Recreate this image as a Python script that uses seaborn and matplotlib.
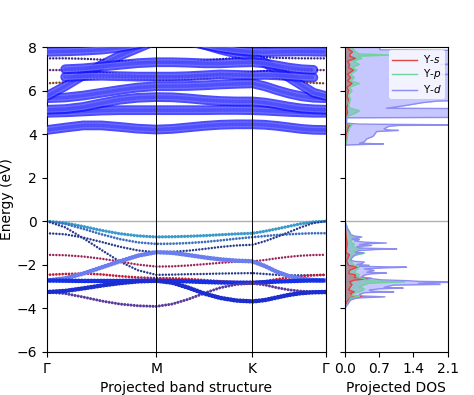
import matplotlib
matplotlib.use("Agg")
import matplotlib.pyplot as plt
import seaborn as sns

# -----------------------------
# K-PATH  (Γ - M - K - Γ, 7 samples per segment)
# -----------------------------

k_path = [0.000, 0.167, 0.333, 0.500, 0.667, 0.833, 1.000,
          1.147, 1.294, 1.441, 1.587, 1.734, 1.881,
          1.993, 2.104, 2.216, 2.328, 2.439, 2.551]
k_ticks = [0.0, 1.0, 1.881, 2.551]
k_labels = ["Γ", "M", "K", "Γ"]

# -----------------------------
# VALENCE BANDS (eV)
# -----------------------------

vb1 = [0.00, -0.08, -0.24, -0.42, -0.57, -0.67, -0.72, -0.71, -0.69, -0.66, -0.62, -0.58, -0.55, -0.46, -0.35, -0.23, -0.11, -0.03, 0.00]
vb2 = [0.00, -0.12, -0.35, -0.60, -0.82, -0.97, -1.04, -1.03, -1.00, -0.95, -0.88, -0.80, -0.73, -0.68, -0.63, -0.60, -0.57, -0.55, -0.55]
vb3 = [0.00, -0.28, -0.78, -1.32, -1.85, -2.25, -2.46, -2.45, -2.43, -2.42, -2.40, -2.39, -2.38, -2.42, -2.46, -2.48, -2.48, -2.47, -2.46]
vb4 = [-0.55, -0.60, -0.75, -0.95, -1.17, -1.34, -1.42, -1.40, -1.35, -1.27, -1.18, -1.11, -1.08, -0.92, -0.72, -0.50, -0.27, -0.08, 0.00]
vb5 = [-1.54, -1.56, -1.62, -1.72, -1.85, -1.99, -2.08, -2.07, -2.03, -1.97, -1.91, -1.86, -1.84, -1.78, -1.70, -1.63, -1.58, -1.55, -1.54]
vb6 = [-2.46, -2.42, -2.40, -2.44, -2.52, -2.58, -2.61, -2.62, -2.65, -2.70, -2.75, -2.79, -2.81, -2.75, -2.66, -2.58, -2.52, -2.48, -2.46]
vb7 = [-2.72, -2.62, -2.40, -2.12, -1.84, -1.58, -1.42, -1.45, -1.55, -1.66, -1.75, -1.81, -1.84, -2.05, -2.32, -2.52, -2.64, -2.70, -2.72]
vb8 = [-2.72, -2.73, -2.74, -2.74, -2.74, -2.73, -2.73, -2.74, -2.76, -2.79, -2.81, -2.82, -2.82, -2.80, -2.77, -2.75, -2.73, -2.72, -2.72]
vb9 = [-3.25, -3.32, -3.48, -3.66, -3.80, -3.88, -3.91, -3.80, -3.58, -3.30, -3.05, -2.90, -2.85, -2.92, -3.05, -3.15, -3.21, -3.24, -3.25]
vb10 = [-3.25, -3.20, -3.08, -2.95, -2.84, -2.76, -2.73, -2.82, -3.05, -3.32, -3.52, -3.64, -3.68, -3.62, -3.50, -3.38, -3.30, -3.26, -3.25]

# -----------------------------
# CONDUCTION BANDS (eV)
# -----------------------------

# thin (s/p-like near Γ)
cb_d1 = [7.48, 7.48, 7.46, 7.42, 7.36, 7.32, 7.30, 7.30, 7.33, 7.38, 7.44, 7.50, 7.55, 7.53, 7.50, 7.49, 7.48, 7.48, 7.48]
cb_d2 = [6.94, 6.94, 6.90, 6.83, 6.75, 6.68, 6.64, 6.64, 6.66, 6.70, 6.75, 6.80, 6.85, 6.90, 6.93, 6.94, 6.94, 6.94, 6.94]
cb_d3 = [6.33, 6.38, 6.50, 6.60, 6.58, 6.53, 6.50, 6.50, 6.53, 6.58, 6.63, 6.67, 6.70, 6.66, 6.58, 6.48, 6.40, 6.35, 6.33]

# fat (Y-d)
cb1 = [4.19, 4.30, 4.40, 4.40, 4.33, 4.25, 4.21, 4.24, 4.31, 4.38, 4.43, 4.45, 4.45, 4.43, 4.38, 4.31, 4.24, 4.20, 4.19]
cb2 = [4.98, 5.00, 5.04, 5.08, 5.10, 5.10, 5.10, 5.10, 5.10, 5.10, 5.11, 5.11, 5.10, 5.08, 5.05, 5.02, 5.00, 4.98, 4.98]
cb3 = [5.12, 5.15, 5.25, 5.42, 5.58, 5.67, 5.70, 5.69, 5.64, 5.57, 5.52, 5.50, 5.50, 5.45, 5.36, 5.26, 5.18, 5.14, 5.12]
cb4 = [5.65, 5.68, 5.77, 5.90, 6.03, 6.14, 6.20, 6.20, 6.21, 6.24, 6.28, 6.31, 6.33, 6.20, 6.02, 5.86, 5.74, 5.67, 5.65]
cb5 = [5.75, 6.20, 6.70, 7.18, 7.60, 7.95, 8.30, 8.40, 8.30, 8.10, 7.88, 7.70, 7.55, 7.28, 6.95, 6.60, 6.25, 5.90, 5.75]
cb6 = [6.60, 6.62, 6.66, 6.68, 6.66, 6.64, 6.64, 6.64, 6.66, 6.70, 6.74, 6.72, 6.70, 6.72, 6.70, 6.66, 6.62, 6.60, 6.60]
cb7 = [6.95, 6.98, 7.02, 7.10, 7.18, 7.26, 7.30, 7.30, 7.28, 7.25, 7.25, 7.28, 7.30, 7.25, 7.15, 7.05, 6.98, 6.95, 6.95]
cb8 = [7.78, 7.80, 7.83, 7.88, 7.97, 8.12, 8.30, 8.32, 8.25, 8.10, 7.95, 7.84, 7.78, 7.76, 7.78, 7.79, 7.80, 7.79, 7.78]

# -----------------------------
# PROJECTED DOS (states/eV)
# -----------------------------

e_s = [-4.00, -3.90, -3.70, -3.55, -3.47, -3.42, -3.30, -3.25, -3.15, -3.00, -2.90, -2.78, -2.70, -2.62, -2.57,
       -2.46, -2.40, -2.25, -2.09, -2.03, -1.80, -1.54, -1.45, -1.20, -1.00, -0.70, -0.40, 0.00, 0.10,
       3.50, 3.60, 4.00, 4.30, 4.42, 4.50, 4.80, 5.00, 5.20, 5.50, 5.70, 6.00, 6.15, 6.33, 6.45, 6.60,
       6.75, 6.94, 7.05, 7.20, 7.35, 7.48, 7.58, 7.70, 7.78, 7.90, 8.10]
dos_s = [0.00, 0.02, 0.05, 0.10, 0.41, 0.15, 0.12, 0.20, 0.08, 0.12, 0.15, 0.10, 0.20, 0.55, 0.20,
         0.22, 0.08, 0.10, 0.27, 0.08, 0.04, 0.10, 0.03, 0.04, 0.05, 0.03, 0.02, 0.00, 0.00,
         0.00, 0.03, 0.04, 0.08, 0.12, 0.02, 0.03, 0.06, 0.04, 0.10, 0.05, 0.08, 0.05, 0.15, 0.06, 0.12,
         0.06, 0.18, 0.08, 0.10, 0.06, 0.22, 0.10, 0.12, 0.16, 0.08, 0.10]

e_p = [-4.00, -3.90, -3.70, -3.55, -3.46, -3.40, -3.30, -3.20, -3.10, -3.02, -2.92, -2.84, -2.78, -2.73, -2.64,
       -2.55, -2.45, -2.35, -2.20, -2.10, -2.00, -1.90, -1.75, -1.60, -1.46, -1.40, -1.30, -1.24, -1.18,
       -1.05, -0.95, -0.85, -0.76, -0.68, -0.50, -0.30, -0.10, 0.00, 0.10,
       3.50, 3.60, 4.00, 4.30, 4.42, 4.50, 4.80, 5.00, 5.08, 5.20, 5.40, 5.60, 5.80, 6.00, 6.15, 6.33,
       6.45, 6.60, 6.75, 6.94, 7.05, 7.20, 7.35, 7.48, 7.58, 7.63, 7.68, 7.80, 7.90, 8.10]
dos_p = [0.00, 0.03, 0.08, 0.12, 0.30, 0.15, 0.20, 0.35, 0.40, 0.30, 0.40, 0.50, 1.22, 0.45, 0.40,
         0.25, 0.30, 0.20, 0.25, 0.30, 0.18, 0.15, 0.10, 0.15, 0.41, 0.18, 0.22, 0.38, 0.15,
         0.20, 0.12, 0.15, 0.30, 0.12, 0.10, 0.05, 0.02, 0.00, 0.00,
         0.00, 0.04, 0.06, 0.10, 0.15, 0.03, 0.05, 0.25, 0.30, 0.10, 0.08, 0.12, 0.08, 0.15, 0.10, 0.30,
         0.12, 0.20, 0.12, 0.25, 0.15, 0.30, 0.18, 0.35, 0.25, 0.95, 0.30, 0.22, 0.18, 0.15]

e_d = [-4.00, -3.95, -3.85, -3.75, -3.62, -3.52, -3.47, -3.43, -3.36, -3.28, -3.24, -3.21, -3.16, -3.10, -3.07,
       -3.04, -2.98, -2.93, -2.90, -2.86, -2.82, -2.79, -2.76, -2.73, -2.69, -2.64, -2.55, -2.47, -2.41,
       -2.38, -2.34, -2.26, -2.19, -2.14, -2.11, -2.07, -2.02, -1.99, -1.94, -1.87, -1.84, -1.78, -1.68,
       -1.57, -1.49, -1.46, -1.42, -1.35, -1.30, -1.27, -1.23, -1.16, -1.11, -1.07, -1.03, -1.00, -0.96,
       -0.90, -0.84, -0.81, -0.77, -0.72, -0.68, -0.60, -0.48, -0.35, -0.20, -0.08, 0.00, 0.10,
       3.50, 3.55, 3.58, 3.65, 3.78, 3.90, 4.02, 4.12, 4.17, 4.20, 4.24, 4.30, 4.36, 4.40, 4.42, 4.46,
       4.50, 4.75, 4.77, 5.17, 5.19, 5.30, 5.45, 5.52, 5.55, 6.70, 6.74, 6.78, 7.15, 7.20, 7.25,
       7.84, 7.87, 8.10]
dos_d = [0.00, 0.02, 0.05, 0.08, 0.12, 0.25, 0.82, 0.35, 0.30, 0.40, 1.00, 0.55, 0.50, 0.70, 1.19,
         0.80, 0.90, 1.00, 1.94, 1.50, 1.70, 2.60, 1.50, 1.30, 0.75, 0.55, 0.35, 0.40, 0.55,
         0.85, 0.45, 0.60, 0.40, 0.80, 1.26, 0.30, 0.50, 0.25, 0.35, 0.40, 0.20, 0.12, 0.15,
         0.20, 0.25, 0.38, 0.22, 0.28, 0.60, 1.06, 0.30, 0.25, 0.55, 0.30, 0.45, 0.85, 0.40,
         0.20, 0.30, 0.15, 0.25, 0.35, 0.20, 0.12, 0.10, 0.06, 0.04, 0.02, 0.00, 0.00,
         0.00, 0.79, 0.30, 0.40, 0.45, 0.58, 0.62, 0.65, 1.09, 0.85, 0.80, 0.85, 0.90, 1.10, 2.60, 0.30,
         0.04, 0.04, 2.60, 2.60, 0.85, 1.20, 1.60, 1.90, 2.60, 2.60, 1.96, 2.60, 2.60, 1.95, 2.60,
         2.60, 0.72, 0.70]

# -----------------------------
# STYLES
# -----------------------------

valence = [vb1, vb2, vb3, vb4, vb5, vb6, vb7, vb8, vb9, vb10]
valence_colors = ["#3a9acb", "#3d6fc0", "#283a8c", "#283a8c", "#9a2458",
                  "#c01c36", "#6a7ef0", "#1630e6", "#5a3a9e", "#1c2ed0"]
valence_widths = [2.4, 2.0, 1.8, 1.8, 1.8, 2.0, 3.4, 3.4, 2.2, 3.4]

thin_cond = [cb_d3, cb_d2, cb_d1]
thin_colors = ["#7a4a20", "#6a2a7a", "#3a2a7a"]

fat_cond = [cb1, cb2, cb3, cb4, cb5, cb6, cb7, cb8]
fat_start = [0, 0, 0, 0, 0, 1, 1, 0]
fat_stop = [19, 19, 19, 19, 19, 18, 18, 19]


def dotted(ax, y, color, width, x=k_path, alpha=1.0, zorder=2):
    gap = 2.25 / width
    sns.lineplot(x=x, y=y, ax=ax, color=color, lw=width, alpha=alpha,
                 linestyle=(0, (0.01, gap)), dash_capstyle="round",
                 estimator=None, sort=False, legend=False, zorder=zorder)


# -----------------------------
# FIGURE
# -----------------------------

fig = plt.figure(figsize=(4.74, 3.95), dpi=100)
ax1 = fig.add_axes([0.099, 0.109, 0.588, 0.772])
ax2 = fig.add_axes([0.727, 0.109, 0.218, 0.772])

# band structure
ax1.axhline(0, color="#b0b0b0", lw=1.0, zorder=1)

for band, col, w in zip(valence, valence_colors, valence_widths):
    dotted(ax1, band, col, w)

for band, col in zip(thin_cond, thin_colors):
    dotted(ax1, band, col, 1.8)

# fat bands: blue rim, lighter core, ring texture on top
for band, i0, i1 in zip(fat_cond, fat_start, fat_stop):
    kk = k_path[i0:i1]
    ee = band[i0:i1]
    sns.lineplot(x=kk, y=ee, ax=ax1, color="#1010ff", lw=7.0, alpha=0.75,
                 solid_capstyle="round", estimator=None, sort=False,
                 legend=False, zorder=3)
    sns.lineplot(x=kk, y=ee, ax=ax1, color="#7a7aff", lw=4.2, alpha=0.8,
                 solid_capstyle="round", estimator=None, sort=False,
                 legend=False, zorder=3)
    dotted(ax1, ee, "#2a2aff", 3.0, x=kk, alpha=0.45, zorder=3)

for kt in k_ticks[1:-1]:
    ax1.axvline(kt, color="black", lw=0.7, zorder=4)

ax1.set_xlim(k_ticks[0], k_ticks[-1])
ax1.set_ylim(-6, 8)
ax1.set_xticks(k_ticks)
ax1.set_xticklabels(k_labels)
ax1.set_yticks([-6, -4, -2, 0, 2, 4, 6, 8])
ax1.set_xlabel("Projected band structure")
ax1.set_ylabel("Energy (eV)", labelpad=2)

# projected DOS
ax2.axhline(0, color="#b0b0b0", lw=1.0, zorder=1)

ax2.fill_betweenx(e_d, 0, dos_d, color="#3030ff", alpha=0.27, lw=0)
ax2.fill_betweenx(e_p, 0, dos_p, color="#20b060", alpha=0.3, lw=0)
ax2.fill_betweenx(e_s, 0, dos_s, color="#e02020", alpha=0.3, lw=0)

sns.lineplot(x=dos_s, y=e_s, ax=ax2, color="#e04444", lw=1.0, orient="y",
             estimator=None, sort=False, label="Y-$s$")
sns.lineplot(x=dos_p, y=e_p, ax=ax2, color="#6fd49a", lw=1.0, orient="y",
             estimator=None, sort=False, label="Y-$p$")
sns.lineplot(x=dos_d, y=e_d, ax=ax2, color="#8c8cf2", lw=1.0, orient="y",
             estimator=None, sort=False, label="Y-$d$")

ax2.set_xlim(0, 2.1)
ax2.set_ylim(-6, 8)
ax2.set_xticks([0.0, 0.7, 1.4, 2.1])
ax2.set_xticklabels(["0.0", "0.7", "1.4", "2.1"])
ax2.set_yticks([-6, -4, -2, 0, 2, 4, 6, 8])
ax2.set_yticklabels([])
ax2.set_xlabel("Projected DOS")
ax2.set_ylabel("")

leg = ax2.legend(loc="upper right", fontsize=7.5, handlelength=2.4,
                 frameon=True, framealpha=0.8, edgecolor="none",
                 borderaxespad=0.3, labelspacing=0.2, borderpad=0.3,
                 handletextpad=0.6)

fig.savefig("out.png", dpi=100)
